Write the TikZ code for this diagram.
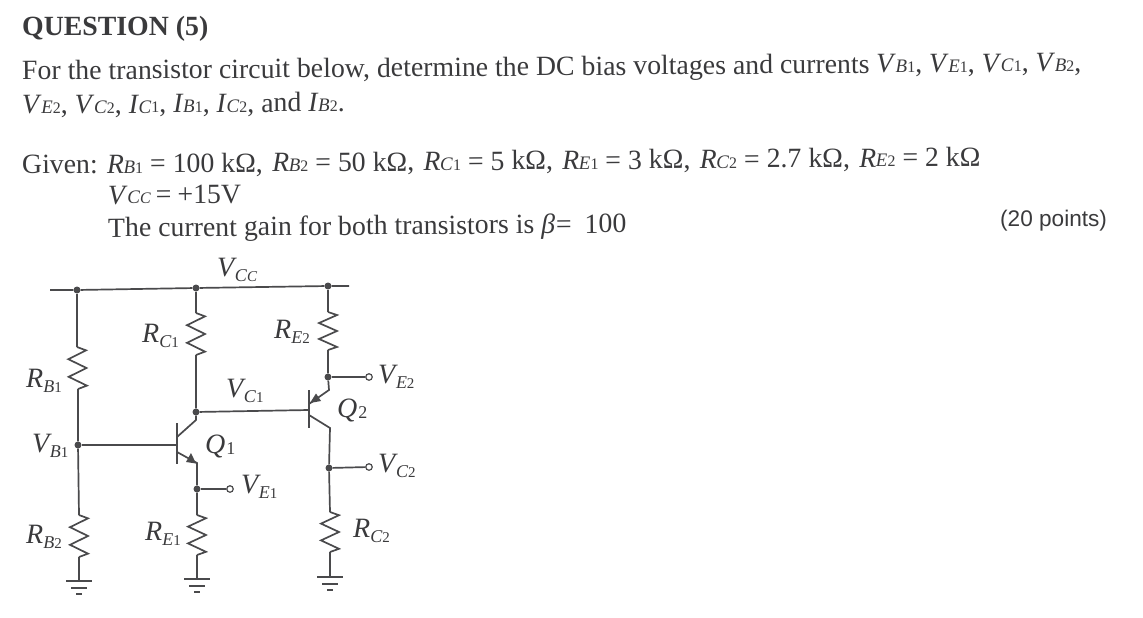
\documentclass[tikz,border=0pt]{standalone}
\usepackage{fontspec}
\setmainfont{Liberation Serif}
\newfontfamily\arialf{Liberation Sans}
\usetikzlibrary{calc}
\definecolor{ink}{HTML}{3A3A3C}
\definecolor{wirec}{HTML}{4A4A4C}
\newcommand{\Sb}[3]{\textit{#1}\kern-0.5pt{\fontsize{19}{19}\selectfont\textit{#2}{\fontsize{16}{16}\selectfont #3}}}
\newcommand{\Lb}[3]{{\fontsize{28}{28}\selectfont\textit{#1}}\kern-2pt\raisebox{-5.5pt}{\fontsize{18}{18}\selectfont\textit{#2}{\fontsize{15}{15}\selectfont #3}}}
\newcommand{\LbR}[3]{{\fontsize{28}{28}\selectfont\textit{#1}}\raisebox{-5.5pt}{\fontsize{18}{18}\selectfont\textit{#2}{\fontsize{15}{15}\selectfont #3}}}
\newcommand{\Qb}[2]{{\fontsize{28}{28}\selectfont\textit{#1}}\kern1pt\raisebox{-1pt}{\fontsize{18}{18}\selectfont #2}}
\newcommand{\resz}[2]{\draw[wire] (#1) -- ($(#1)!.08!(#2)+(9,0)$) -- ($(#1)!.29!(#2)+(-9,0)$) -- ($(#1)!.5!(#2)+(9,0)$) -- ($(#1)!.71!(#2)+(-9,0)$) -- ($(#1)!.92!(#2)+(9,0)$) -- (#2);}
\newcommand{\gndsym}[1]{\draw[wire] ($(#1)+(-13,0)$) -- ($(#1)+(13,0)$); \draw[wire] ($(#1)+(-8,7)$) -- ($(#1)+(8,7)$); \draw[wire] ($(#1)+(-3,13)$) -- ($(#1)+(3,13)$);}
\tikzset{
  wire/.style={draw=wirec,line width=1.7pt,line join=miter},
  dotj/.style={circle,fill=wirec,draw=none,inner sep=0pt,minimum size=7pt},
  opent/.style={circle,fill=white,draw=wirec,line width=1.2pt,inner sep=0pt,minimum size=6.5pt},
  txt/.style={anchor=base west,inner sep=0pt,text=ink,rotate=0.47,font=\fontsize{27.8}{28}\selectfont},
  lab/.style={anchor=base west,inner sep=0pt,text=ink}
}
\begin{document}
\begin{tikzpicture}[x=1pt,y=-1pt]
\useasboundingbox (0,0) rectangle (1143,618);
% text
\node[txt,rotate=-0.47,font=\fontsize{27.8}{28}\selectfont\bfseries] (t0) at (22,36) {QUESTION (5)};
\node[txt] (t1) at (22,80) {For the transistor circuit below, determine the DC bias voltages and currents \Sb{V}{B}{1}, \Sb{V}{E}{1}, \Sb{V}{C}{1}, \Sb{V}{B}{2},};
\node[txt] (t2) at (22,114) {\Sb{V}{E}{2}, \Sb{V}{C}{2}, \Sb{I}{C}{1}, \Sb{I}{B}{1}, \Sb{I}{C}{2}, and \Sb{I}{B}{2}.};
\node[txt] (t3) at (22,174) {Given: \Sb{R}{B}{1} = 100 kΩ,\kern2.5pt{} \Sb{R}{B}{2} = 50 kΩ,\kern2.5pt{} \Sb{R}{C}{1} = 5 kΩ,\kern2.5pt{} \Sb{R}{E}{1} = 3 kΩ,\kern2.5pt{} \Sb{R}{C}{2} = 2.7 kΩ,\kern2.5pt{} \Sb{R}{E}{2} = 2 kΩ};
\node[txt] (t4) at (108,204) {\Sb{V}{C}{\textit{C}}\kern-2pt{} =\kern-1pt{} +15V};
\node[txt] (t5) at (108,237) {The current gain for both transistors is \textit{β}\kern1pt= \kern6pt100};
\node[lab,font=\arialf\fontsize{22.6}{23}\selectfont] (t6) at (1000,226) {(20 points)};
% coordinates
\coordinate (railL) at (50,290);
\coordinate (railR) at (349,286);
\node[dotj] (j1) at (77,290) {};
\node[dotj] (j2) at (196,288) {};
\node[dotj] (j3) at (328,286) {};
\coordinate (rb1t) at (77,347); \coordinate (rb1b) at (78,389);
\node[dotj] (jb1) at (78,445) {};
\coordinate (rb2t) at (79,515); \coordinate (rb2b) at (79,557);
\coordinate (g1) at (79,581);
\coordinate (rc1t) at (196,313); \coordinate (rc1b) at (196,355);
\node[dotj] (jc1) at (196,412) {};
\coordinate (q1c) at (196,420); \coordinate (q1ci) at (177,437);
\coordinate (q1b) at (177,445);
\coordinate (q1bt) at (177,423); \coordinate (q1bb) at (177,464);
\coordinate (q1ei) at (177,452); \coordinate (q1e) at (197,463);
\node[dotj] (je1) at (197,489) {};
\node[opent] (oe1) at (230,489) {};
\coordinate (re1t) at (197,515); \coordinate (re1b) at (197,555);
\coordinate (g2) at (197,579);
\coordinate (re2t) at (328,312); \coordinate (re2b) at (328,350);
\node[dotj] (je2) at (328,377) {};
\node[opent] (oe2) at (369,377) {};
\coordinate (q2e) at (329,390); \coordinate (q2ei) at (309,404);
\coordinate (q2b) at (309,410);
\coordinate (q2bt) at (309,390); \coordinate (q2bb) at (309,428);
\coordinate (q2ci) at (309,415); \coordinate (q2c) at (330,428);
\node[dotj] (jc2) at (329,468) {};
\node[opent] (oc2) at (369,467) {};
\coordinate (rc2t) at (330,512); \coordinate (rc2b) at (330,552);
\coordinate (g3) at (330,577);
% wires
\draw[wire] (railL) -- (j1) -- (j2) -- (j3) -- (railR);
\draw[wire] (j1) -- (rb1t); \resz{rb1t}{rb1b}; \draw[wire] (rb1b) -- (jb1) -- (rb2t); \resz{rb2t}{rb2b}; \draw[wire] (rb2b) -- (g1); \gndsym{g1}
\draw[wire] (j2) -- (rc1t); \resz{rc1t}{rc1b}; \draw[wire] (rc1b) -- (jc1) -- (q1c) -- (q1ci);
\draw[wire] (jb1) -- (q1b);
\draw[wire] (q1bt) -- (q1bb);
\draw[wire] (q1ei) -- (q1e) -- (je1) -- (re1t); \resz{re1t}{re1b}; \draw[wire] (re1b) -- (g2); \gndsym{g2}
\fill[wirec] (196,463.5) -- (186,462) -- (191,453) -- cycle;
\draw[wire] (je1) -- (oe1);
\draw[wire] (j3) -- (re2t); \resz{re2t}{re2b}; \draw[wire] (re2b) -- (je2) -- (q2e) -- (q2ei);
\fill[wirec] (310,403) -- (316,393.5) -- (321,401) -- cycle;
\draw[wire] (je2) -- (oe2);
\draw[wire] (jc1) -- (q2b);
\draw[wire] (q2bt) -- (q2bb);
\draw[wire] (q2ci) -- (q2c) -- (jc2) -- (rc2t); \resz{rc2t}{rc2b}; \draw[wire] (rc2b) -- (g3); \gndsym{g3}
\draw[wire] (jc2) -- (oc2);
% labels
\node[lab] (lvcc) at (217,276) {\Lb{V}{C}{\textit{C}}};
\node[lab] (lrc1) at (142,342) {\LbR{R}{C}{1}};
\node[lab] (lre2) at (274,338) {\LbR{R}{E}{2}};
\node[lab] (lrb1) at (26,387) {\LbR{R}{B}{1}};
\node[lab] (lvc1) at (226,397) {\Lb{V}{C}{1}};
\node[lab] (lve2) at (378,383) {\Lb{V}{E}{2}};
\node[lab] (lq2) at (337,417) {\Qb{Q}{2}};
\node[lab] (lvb1) at (32,452) {\Lb{V}{B}{1}};
\node[lab] (lq1) at (205,453) {\Qb{Q}{1}};
\node[lab] (lvc2) at (378,472) {\Lb{V}{C}{2}};
\node[lab] (lve1) at (241,493) {\Lb{V}{E}{1}};
\node[lab] (lrb2) at (26,543) {\LbR{R}{B}{2}};
\node[lab] (lre1) at (145,540) {\LbR{R}{E}{1}};
\node[lab] (lrc2) at (353,537) {\LbR{R}{C}{2}};
\end{tikzpicture}
\end{document}
